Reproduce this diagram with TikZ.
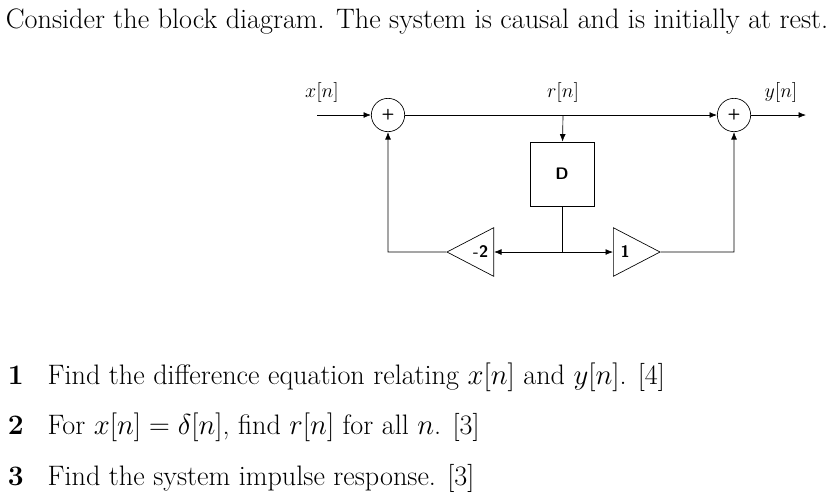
\documentclass[tikz,border=0pt]{standalone}
\usetikzlibrary{arrows.meta,shapes.geometric}
\begin{document}
\begin{tikzpicture}[x=0.6pt,y=-0.6pt,
  sumn/.style={draw,circle,minimum size=20pt,inner sep=0pt,font=\sffamily\bfseries\small},
  gainl/.style={draw,isosceles triangle,shape border rotate=180,isosceles triangle apex angle=55,minimum height=28pt,inner sep=0pt,font=\sffamily\bfseries},
  gainr/.style={draw,isosceles triangle,isosceles triangle apex angle=55,minimum height=28pt,inner sep=0pt,font=\sffamily\bfseries},
  blk/.style={draw,minimum width=38.4pt,minimum height=38.4pt,font=\sffamily\bfseries},
  sig/.style={font=\large},
  ar/.style={-{Latex[length=4.5pt,width=3.5pt]}},
  txt/.style={anchor=west,font=\fontsize{16.9}{20}\selectfont}]
\useasboundingbox (0,0) rectangle (840,498);
\node[txt,anchor=west] (title) at (0,22) {Consider the block diagram. The system is causal and is initially at rest.};
\node[sumn] (s1) at (388,115) {+};
\node[sumn] (s2) at (734,115) {+};
\coordinate (in) at (317,115);
\coordinate (out) at (806,115);
\coordinate (tap) at (563,115);
\node[blk] (d) at (562,174) {D};
\coordinate (bt) at (562,252);
\node[gainl,anchor=east] (g2) at (494,252) {\,-2};
\node[gainr,anchor=west] (g1) at (613,252) {1\,};
\coordinate (bl) at (388,252);
\coordinate (br) at (734,252);
\node[sig] (lx) at (322,92) {$x[n]$};
\node[sig] (lr) at (563,92) {$r[n]$};
\node[sig] (ly) at (781,92) {$y[n]$};
\draw[ar] (in) -- (s1);
\draw[ar] (s1) -- (s2);
\draw[ar] (s2) -- (out);
\draw[ar] (tap) -- (d);
\draw (d) -- (bt);
\draw[ar] (bt) -- (g2.east);
\draw[ar] (bt) -- (g1.west);
\draw[ar] (g2.apex) -- (bl) -- (s1);
\draw[ar] (g1.apex) -- (br) -- (s2);
\node[txt] (q1) at (2,377) {\textbf{1}\hspace{0.85em}Find the difference equation relating $x[n]$ and $y[n]$. [4]};
\node[txt] (q2) at (2,427) {\textbf{2}\hspace{0.85em}For $x[n]=\delta[n]$, find $r[n]$ for all $n$. [3]};
\node[txt] (q3) at (2,478) {\textbf{3}\hspace{0.85em}Find the system impulse response. [3]};
\end{tikzpicture}
\end{document}
